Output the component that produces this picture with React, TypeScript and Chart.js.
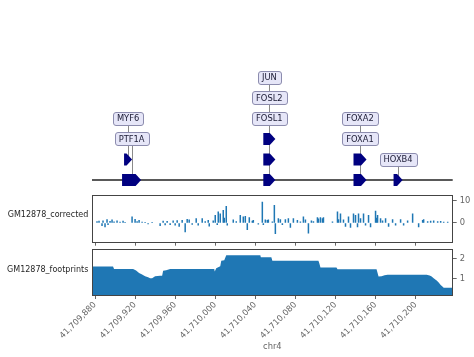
import React, { useEffect, useRef } from 'react';
import { Chart, registerables } from 'chart.js';
Chart.register(...registerables);

// ---------- data ----------
const X_MIN = 41709877;
const X_MAX = 41710237;
const X_TICKS = [41709880, 41709920, 41709960, 41710000, 41710040, 41710080, 41710120, 41710160, 41710200];
const X_LABEL = 'chr4';

const MOTIF_NAMES = ['PTF1A', 'MYF6', 'JUN', 'FOSL2', 'FOSL1', 'FOXA2', 'FOXA1', 'HOXB4'];
const MOTIF_START = [41709907, 41709909, 41710048, 41710048, 41710048, 41710138, 41710138, 41710178];
const MOTIF_END = [41709926, 41709917, 41710060, 41710060, 41710060, 41710151, 41710151, 41710187];
const MOTIF_ROW = [0, 1, 0, 1, 2, 0, 1, 0];
const LABEL_ROW = [2, 3, 5, 4, 3, 3, 2, 1];

const TRACK1_NAME = 'GM12878_corrected';
const CORRECTED_POS = [
  41709882, 41709884, 41709887, 41709888, 41709890, 41709892, 41709893, 41709895, 41709897, 41709899,
  41709902, 41709905, 41709908, 41709910, 41709917, 41709920, 41709922, 41709924, 41709927, 41709930,
  41709933, 41709937, 41709945, 41709948, 41709950, 41709952, 41709955, 41709958, 41709960, 41709962,
  41709964, 41709967, 41709970, 41709972, 41709974, 41709977, 41709981, 41709983, 41709987, 41709990,
  41709993, 41709994, 41709998, 41710000, 41710002, 41710003, 41710005, 41710008, 41710009, 41710011,
  41710012, 41710018, 41710021, 41710025, 41710028, 41710030, 41710032, 41710034, 41710037, 41710038,
  41710043, 41710047, 41710048, 41710050, 41710052, 41710053, 41710057, 41710059, 41710060, 41710063,
  41710065, 41710067, 41710070, 41710073, 41710075, 41710078, 41710082, 41710085, 41710088, 41710090,
  41710093, 41710096, 41710098, 41710102, 41710103, 41710105, 41710107, 41710108, 41710117, 41710122,
  41710123, 41710125, 41710128, 41710130, 41710133, 41710135, 41710138, 41710140, 41710142, 41710143,
  41710145, 41710148, 41710150, 41710153, 41710155, 41710160, 41710161, 41710162, 41710165, 41710167,
  41710170, 41710173, 41710177, 41710180, 41710185, 41710188, 41710192, 41710197, 41710203, 41710207,
  41710208, 41710212, 41710215, 41710218, 41710222, 41710225, 41710228, 41710232,
];
const CORRECTED_VAL = [
  0.6, 0.8, -1.2, 1.0, -1.8, 1.5, -0.8, 0.7, 1.4, 0.5,
  0.9, 0.4, 0.8, 0.3, 2.7, 1.6, 0.6, 1.2, 0.4, 0.3,
  -0.4, 0.3, -1.2, 0.8, -0.9, 0.7, -0.8, 0.9, -1.0, 1.1,
  -1.5, 1.2, -4.0, 1.6, 1.4, -0.6, 2.0, -1.0, 1.9, 0.6,
  1.2, -1.4, 1.0, 3.4, -0.8, 4.9, 4.1, 5.6, 2.2, 7.4,
  -1.0, 1.4, 0.6, 3.4, 2.7, 3.0, -3.0, 2.4, 0.8, 1.2,
  -0.5, 9.3, -0.7, 1.4, 1.2, 1.4, 0.5, 7.8, -4.7, 1.9,
  1.5, -0.8, 1.5, 1.9, -2.0, 1.9, 1.2, 0.5, 2.7, 1.4,
  -4.5, 0.9, 0.6, 2.4, 1.8, 2.4, 2.0, 2.4, 0.5, 4.9,
  1.5, 4.1, 1.4, -1.5, 2.7, -2.0, 4.1, 3.4, -1.8, 4.1,
  1.9, 4.1, -1.0, 3.4, -1.8, 5.3, 2.2, 3.4, 1.9, 0.9,
  1.9, -1.5, 1.5, -1.0, 1.5, -1.0, 0.9, 4.1, -1.8, 1.2,
  1.5, 0.6, 0.8, 0.9, 0.6, 0.7, 0.4, 0.4,
];
const CORRECTED_TICKS = [0, 10];

const TRACK2_NAME = 'GM12878_footprints';
const FOOTPRINT_POS = [
  41709877, 41709898, 41709899, 41709918, 41709921, 41709924, 41709927, 41709930, 41709933, 41709935,
  41709937, 41709940, 41709945, 41709947, 41709948, 41709951, 41709955, 41709999, 41709999.5, 41710001,
  41710005, 41710006, 41710009, 41710011, 41710045, 41710045.5, 41710056, 41710057, 41710103, 41710104,
  41710105, 41710121, 41710122, 41710161, 41710163, 41710166, 41710169, 41710172, 41710211, 41710214,
  41710216, 41710218, 41710221, 41710223, 41710225, 41710227, 41710228, 41710237,
];
const FOOTPRINT_VAL = [
  1.61, 1.61, 1.48, 1.48, 1.40, 1.28, 1.20, 1.12, 1.06, 1.02,
  1.02, 1.12, 1.14, 1.14, 1.39, 1.42, 1.48, 1.48, 1.35, 1.52,
  1.62, 1.90, 1.92, 2.17, 2.17, 2.07, 2.07, 1.90, 1.90, 1.75,
  1.56, 1.56, 1.47, 1.47, 1.10, 1.12, 1.16, 1.19, 1.19, 1.15,
  1.10, 1.02, 0.90, 0.80, 0.68, 0.58, 0.54, 0.54,
];
const FOOTPRINT_TICKS = [1, 2];

// ---------- style ----------
const W = 474;
const H = 357;
const FONT = "'DejaVu Sans', sans-serif";
const FS = 8.33;
const SIDE_FS = 8;
const TICK_COLOR = '#666666';
const FRAME_COLOR = '#444444';
const BAR_COLOR = '#1f77b4';
const PLOT_LEFT = 92;
const PLOT_RIGHT_W = 21.3;

const fmt = (v: number) => Number(v).toLocaleString('en-US');

const framePlugin = (label: string, baselineOffset: number) => ({
  id: 'frame_' + label,
  afterDraw(chart: any) {
    const { ctx, chartArea: a } = chart;
    ctx.save();
    ctx.strokeStyle = FRAME_COLOR;
    ctx.lineWidth = 1;
    ctx.strokeRect(Math.round(a.left) + 0.5, Math.round(a.top) + 0.5, Math.round(a.right - a.left) - 1, Math.round(a.bottom - a.top));
    ctx.fillStyle = '#262626';
    ctx.font = `${SIDE_FS}px ${FONT}`;
    ctx.textAlign = 'right';
    ctx.textBaseline = 'alphabetic';
    ctx.fillText(label, a.left - 3.7, (a.top + a.bottom) / 2 + baselineOffset);
    ctx.restore();
  },
});

const genePlugin = {
  id: 'genes',
  afterDraw(chart: any) {
    const { ctx, chartArea: a } = chart;
    const xs = chart.scales.x;
    const ys = chart.scales.y;
    ctx.save();
    // baseline track line
    ctx.strokeStyle = '#222222';
    ctx.lineWidth = 1.6;
    ctx.beginPath();
    ctx.moveTo(a.left, ys.getPixelForValue(0));
    ctx.lineTo(a.right, ys.getPixelForValue(0));
    ctx.stroke();
    // connectors
    ctx.strokeStyle = '#8a8a8a';
    ctx.lineWidth = 1;
    MOTIF_NAMES.forEach((n, i) => {
      const cx = Math.round(xs.getPixelForValue((MOTIF_START[i] + MOTIF_END[i]) / 2)) + 0.5;
      ctx.beginPath();
      ctx.moveTo(cx, ys.getPixelForValue(LABEL_ROW[i]));
      ctx.lineTo(cx, ys.getPixelForValue(MOTIF_ROW[i]));
      ctx.stroke();
    });
    // arrows
    ctx.fillStyle = '#000080';
    MOTIF_NAMES.forEach((n, i) => {
      const x0 = xs.getPixelForValue(MOTIF_START[i]);
      const x1 = xs.getPixelForValue(MOTIF_END[i]);
      const yc = ys.getPixelForValue(MOTIF_ROW[i]);
      const hh = 6;
      const head = Math.min(5.5, x1 - x0);
      ctx.beginPath();
      ctx.moveTo(x0, yc - hh);
      ctx.lineTo(x1 - head, yc - hh);
      ctx.lineTo(x1, yc);
      ctx.lineTo(x1 - head, yc + hh);
      ctx.lineTo(x0, yc + hh);
      ctx.closePath();
      ctx.fill();
    });
    // label boxes
    ctx.font = `${FS}px ${FONT}`;
    ctx.textAlign = 'center';
    ctx.textBaseline = 'middle';
    MOTIF_NAMES.forEach((n, i) => {
      const cx = xs.getPixelForValue((MOTIF_START[i] + MOTIF_END[i]) / 2);
      const cy = ys.getPixelForValue(LABEL_ROW[i]);
      const tw = ctx.measureText(n).width;
      const bw = tw + 8;
      const bh = 13;
      const bx = Math.round(cx - bw / 2) + 0.5;
      const by = Math.round(cy - bh / 2) + 0.5;
      ctx.beginPath();
      (ctx as any).roundRect(bx, by, Math.round(bw), bh, 2.5);
      ctx.fillStyle = '#e6e6f8';
      ctx.fill();
      ctx.strokeStyle = '#8c8cae';
      ctx.lineWidth = 1;
      ctx.stroke();
      ctx.fillStyle = '#1a1a33';
      ctx.fillText(n, cx, cy + 0.5);
    });
    ctx.restore();
  },
};

const xTicksBuilder = (s: any) => {
  s.ticks = X_TICKS.map((v) => ({ value: v }));
};

export default function App() {
  const c1 = useRef<HTMLCanvasElement>(null);
  const c2 = useRef<HTMLCanvasElement>(null);
  const c3 = useRef<HTMLCanvasElement>(null);

  useEffect(() => {
    document.body.style.margin = '0';
    const charts: Chart[] = [];

    // gene track
    charts.push(
      new Chart(c1.current!, {
        type: 'scatter',
        data: { datasets: [{ data: [] }] },
        options: {
          animation: false,
          responsive: false,
          events: [],
          layout: { padding: { left: PLOT_LEFT, right: PLOT_RIGHT_W, top: 77.3, bottom: H - 180 } },
          plugins: { legend: { display: false }, tooltip: { enabled: false } },
          scales: {
            x: { type: 'linear', min: X_MIN, max: X_MAX, display: false },
            y: { type: 'linear', min: 0, max: 5, display: false },
          },
        },
        plugins: [genePlugin],
      } as any)
    );

    // corrected signal
    charts.push(
      new Chart(c2.current!, {
        type: 'bar',
        data: {
          datasets: [
            {
              data: CORRECTED_POS.map((x, i) => ({ x, y: CORRECTED_VAL[i] })),
              backgroundColor: BAR_COLOR,
              borderWidth: 0,
              barThickness: 0.85,
            },
          ],
        },
        options: {
          animation: false,
          responsive: false,
          events: [],
          layout: { padding: { left: PLOT_LEFT, right: 0, top: 195, bottom: H - 241.7 - 4 } },
          plugins: { legend: { display: false }, tooltip: { enabled: false } },
          scales: {
            x: {
              type: 'linear',
              min: X_MIN,
              max: X_MAX,
              offset: false,
              afterBuildTicks: xTicksBuilder,
              afterFit: (s: any) => {
                s.height = 4;
              },
              ticks: { display: false },
              grid: { offset: false, drawOnChartArea: false, drawTicks: true, tickLength: 4, color: TICK_COLOR },
              border: { display: false },
            },
            y: {
              type: 'linear',
              position: 'right',
              min: -8.3,
              max: 12.4,
              afterBuildTicks: (s: any) => {
                s.ticks = CORRECTED_TICKS.map((v) => ({ value: v }));
              },
              afterFit: (s: any) => {
                s.width = PLOT_RIGHT_W;
              },
              ticks: { color: TICK_COLOR, font: { family: FONT, size: FS }, padding: 3 },
              grid: { drawOnChartArea: false, drawTicks: true, tickLength: 4, color: TICK_COLOR },
              border: { display: false },
            },
          },
        },
        plugins: [framePlugin(TRACK1_NAME, -1)],
      } as any)
    );

    // footprints
    charts.push(
      new Chart(c3.current!, {
        type: 'line',
        data: {
          datasets: [
            {
              data: FOOTPRINT_POS.map((x, i) => ({ x, y: FOOTPRINT_VAL[i] })),
              backgroundColor: BAR_COLOR,
              borderColor: BAR_COLOR,
              borderWidth: 0,
              pointRadius: 0,
              tension: 0,
              fill: 'start',
            },
          ],
        },
        options: {
          animation: false,
          responsive: false,
          events: [],
          layout: { padding: { left: PLOT_LEFT, right: 0, top: 249, bottom: 0 } },
          plugins: { legend: { display: false }, tooltip: { enabled: false } },
          scales: {
            x: {
              type: 'linear',
              min: X_MIN,
              max: X_MAX,
              afterBuildTicks: xTicksBuilder,
              afterFit: (s: any) => {
                s.height = H - 295;
              },
              ticks: {
                autoSkip: false,
                minRotation: 45,
                maxRotation: 45,
                color: TICK_COLOR,
                font: { family: FONT, size: FS },
                padding: 1,
                callback: (v: any) => fmt(v),
              },
              grid: { drawOnChartArea: false, drawTicks: true, tickLength: 4, color: TICK_COLOR },
              border: { display: false },
              title: {
                display: true,
                text: X_LABEL,
                color: TICK_COLOR,
                font: { family: FONT, size: FS },
                padding: { top: 0, bottom: 4.7 },
              },
            },
            y: {
              type: 'linear',
              position: 'right',
              min: 0.17,
              max: 2.49,
              afterBuildTicks: (s: any) => {
                s.ticks = FOOTPRINT_TICKS.map((v) => ({ value: v }));
              },
              afterFit: (s: any) => {
                s.width = PLOT_RIGHT_W;
              },
              ticks: { color: TICK_COLOR, font: { family: FONT, size: FS }, padding: 3 },
              grid: { drawOnChartArea: false, drawTicks: true, tickLength: 4, color: TICK_COLOR },
              border: { display: false },
            },
          },
        },
        plugins: [framePlugin(TRACK2_NAME, 0.3)],
      } as any)
    );

    return () => charts.forEach((c) => c.destroy());
  }, []);

  const cs: React.CSSProperties = { position: 'absolute', left: 0, top: 0, width: W, height: H };
  return (
    <div style={{ position: 'fixed', left: 0, top: 0, width: W, height: H, background: '#fff' }}>
      <canvas ref={c1} width={W} height={H} style={cs} />
      <canvas ref={c2} width={W} height={H} style={cs} />
      <canvas ref={c3} width={W} height={H} style={cs} />
    </div>
  );
}
